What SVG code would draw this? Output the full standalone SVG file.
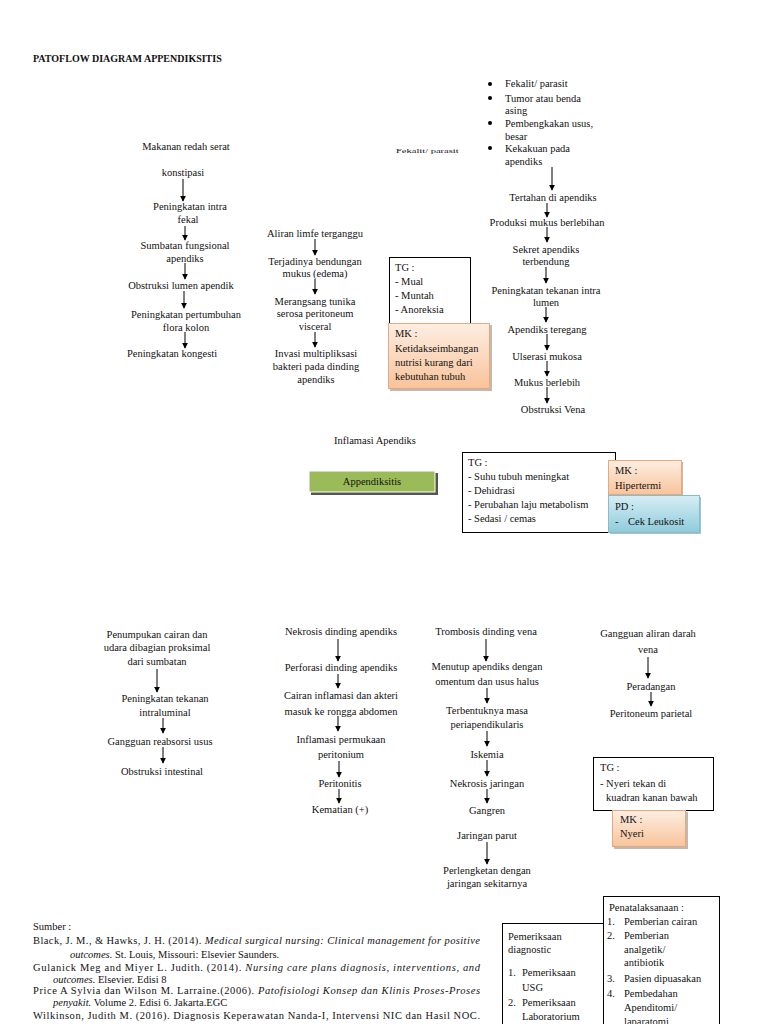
<svg xmlns="http://www.w3.org/2000/svg" width="768" height="1024" viewBox="0 0 768 1024">
<style>
text{font-family:"Liberation Serif","DejaVu Serif",serif;font-size:10.5px;fill:#111}
.c{text-anchor:middle}
.t{font-weight:bold;font-size:10px}
.box{fill:#fff;stroke:#000;stroke-width:1}
.ln{stroke:#000;stroke-width:1;fill:none;marker-end:url(#ah)}
.i{font-style:italic}
</style>
<defs>
<marker id="ah" viewBox="0 0 8 8" refX="7" refY="4" markerWidth="6" markerHeight="6" orient="auto" markerUnits="userSpaceOnUse"><path d="M0,0 L8,4 L0,8 Z" fill="#000"/></marker>
<linearGradient id="og" x1="0" y1="0" x2="0" y2="1"><stop offset="0" stop-color="#fdeee2"/><stop offset="1" stop-color="#f9c39a"/></linearGradient>
<linearGradient id="bg" x1="0" y1="0" x2="0" y2="1"><stop offset="0" stop-color="#d6eef5"/><stop offset="1" stop-color="#8fcbdb"/></linearGradient>
</defs>
<rect width="768" height="1024" fill="#fff"/>
<text class="t" x="33" y="62">PATOFLOW DIAGRAM APPENDIKSITIS</text>

<g id="connectors">
<line class="ln" x1="183" y1="179" x2="183" y2="201"/>
<line class="ln" x1="185" y1="226" x2="185" y2="240"/>
<line class="ln" x1="185" y1="263" x2="185" y2="279"/>
<line class="ln" x1="184" y1="291" x2="184" y2="308"/>
<line class="ln" x1="185" y1="332" x2="185" y2="348"/>
<line class="ln" x1="315" y1="239" x2="315" y2="255"/>
<line class="ln" x1="315" y1="279" x2="315" y2="294"/>
<line class="ln" x1="315" y1="332" x2="315" y2="347"/>
<line class="ln" x1="552" y1="167" x2="552" y2="190"/>
<line class="ln" x1="547" y1="203" x2="547" y2="217"/>
<line class="ln" x1="547" y1="227" x2="547" y2="242"/>
<line class="ln" x1="546" y1="267" x2="546" y2="283"/>
<line class="ln" x1="546" y1="307" x2="546" y2="322"/>
<line class="ln" x1="547" y1="334" x2="547" y2="350"/>
<line class="ln" x1="547" y1="361" x2="547" y2="376"/>
<line class="ln" x1="547" y1="387" x2="547" y2="403"/>
<line class="ln" x1="157" y1="669" x2="157" y2="692"/>
<line class="ln" x1="163" y1="718" x2="163" y2="733"/>
<line class="ln" x1="163" y1="747" x2="163" y2="763"/>
<line class="ln" x1="338" y1="639" x2="338" y2="661"/>
<line class="ln" x1="338" y1="674" x2="338" y2="688"/>
<line class="ln" x1="338" y1="716" x2="338" y2="731"/>
<line class="ln" x1="339" y1="761" x2="339" y2="777"/>
<line class="ln" x1="339" y1="789" x2="339" y2="803"/>
<line class="ln" x1="486" y1="639" x2="486" y2="661"/>
<line class="ln" x1="487" y1="688" x2="487" y2="703"/>
<line class="ln" x1="487" y1="731" x2="487" y2="746"/>
<line class="ln" x1="487" y1="760" x2="487" y2="776"/>
<line class="ln" x1="487" y1="789" x2="487" y2="803"/>
<line class="ln" x1="487" y1="842" x2="487" y2="864"/>
<line class="ln" x1="648" y1="657" x2="648" y2="678"/>
<line class="ln" x1="651" y1="692" x2="651" y2="706"/>
</g>

<g id="left-column">
<text class="c" x="186" y="150">Makanan redah serat</text>
<text class="c" x="183" y="176">konstipasi</text>
<text class="c" x="190" y="210">Peningkatan intra</text>
<text class="c" x="188" y="223">fekal</text>
<text class="c" x="185" y="249">Sumbatan fungsional</text>
<text class="c" x="185" y="262">apendiks</text>
<text class="c" x="181" y="289">Obstruksi lumen apendik</text>
<text class="c" x="186" y="318">Peningkatan pertumbuhan</text>
<text class="c" x="186" y="331">flora kolon</text>
<text class="c" x="172" y="357">Peningkatan kongesti</text>
</g>

<g id="middle-column">
<text class="c" x="315" y="237">Aliran limfe terganggu</text>
<text class="c" x="315" y="265">Terjadinya bendungan</text>
<text class="c" x="315" y="277">mukus (edema)</text>
<text class="c" x="315" y="305">Merangsang tunika</text>
<text class="c" x="315" y="317">serosa peritoneum</text>
<text class="c" x="315" y="330">visceral</text>
<text class="c" x="316" y="357">Invasi multipliksasi</text>
<text class="c" x="316" y="370">bakteri pada dinding</text>
<text class="c" x="316" y="383">apendiks</text>
</g>

<g id="smudge">
<text x="396" y="153" font-size="9" fill="#666" transform="translate(0,76.5) scale(1,0.5)">Fekalit/ parasit</text>
</g>

<g id="causes">
<circle cx="490" cy="84" r="2" fill="#000"/>
<circle cx="490" cy="98" r="2" fill="#000"/>
<circle cx="490" cy="123" r="2" fill="#000"/>
<circle cx="490" cy="148" r="2" fill="#000"/>
<text x="505" y="87">Fekalit/ parasit</text>
<text x="505" y="102">Tumor atau benda</text>
<text x="505" y="114">asing</text>
<text x="505" y="127">Pembengkakan usus,</text>
<text x="505" y="140">besar</text>
<text x="505" y="152">Kekakuan pada</text>
<text x="505" y="165">apendiks</text>
</g>

<g id="right-column">
<text class="c" x="553" y="201">Tertahan di apendiks</text>
<text class="c" x="547" y="226">Produksi mukus berlebihan</text>
<text class="c" x="546" y="253">Sekret apendiks</text>
<text class="c" x="546" y="265">terbendung</text>
<text class="c" x="546" y="294">Peningkatan tekanan intra</text>
<text class="c" x="546" y="306">lumen</text>
<text class="c" x="547" y="333">Apendiks teregang</text>
<text class="c" x="547" y="360">Ulserasi mukosa</text>
<text class="c" x="547" y="386">Mukus berlebih</text>
<text class="c" x="553" y="413">Obstruksi Vena</text>
</g>

<g id="tg1">
<rect class="box" x="389.5" y="257.5" width="81" height="66"/>
<text x="395" y="271">TG :</text>
<text x="395" y="285">- Mual</text>
<text x="395" y="299">- Muntah</text>
<text x="395" y="313">- Anoreksia</text>
</g>
<g id="mk1">
<rect x="390" y="325" width="102" height="66" fill="#bbb"/>
<rect x="388.5" y="323.5" width="101" height="65" fill="url(#og)" stroke="#e8a878"/>
<text x="395" y="337">MK :</text>
<text x="395" y="352">Ketidakseimbangan</text>
<text x="395" y="366">nutrisi kurang dari</text>
<text x="395" y="380">kebutuhan tubuh</text>
</g>

<g id="inflamasi">
<text class="c" x="375" y="444">Inflamasi Apendiks</text>
</g>
<g id="appendiksitis">
<rect x="311" y="473" width="127" height="22" fill="#555"/>
<rect x="309" y="471" width="126" height="21" fill="#9bbb59" stroke="#fff" stroke-width="1"/>
<text class="c" x="372" y="485">Appendiksitis</text>
</g>

<g id="tg2">
<rect class="box" x="462.5" y="452.5" width="153" height="80"/>
<text x="468" y="466">TG :</text>
<text x="468" y="480">- Suhu tubuh meningkat</text>
<text x="468" y="494">- Dehidrasi</text>
<text x="468" y="508">- Perubahan laju metabolism</text>
<text x="468" y="522">- Sedasi / cemas</text>
</g>
<g id="mk2">
<rect x="610" y="462" width="73" height="35" fill="#bbb"/>
<rect x="608.5" y="460.5" width="73" height="34" fill="url(#og)" stroke="#e8a878"/>
<text x="615" y="474">MK :</text>
<text x="615" y="489">Hipertermi</text>
</g>
<g id="pd">
<rect x="610" y="497" width="91" height="37" fill="#bbb"/>
<rect x="608.5" y="495.5" width="91" height="37" fill="url(#bg)" stroke="#7fbfd0"/>
<text x="615" y="510">PD :</text>
<text x="615" y="525">-</text>
<text x="628" y="525">Cek Leukosit</text>
</g>

<g id="bottom-left">
<text class="c" x="157" y="638">Penumpukan cairan dan</text>
<text class="c" x="157" y="651">udara dibagian proksimal</text>
<text class="c" x="157" y="665">dari sumbatan</text>
<text class="c" x="165" y="702">Peningkatan tekanan</text>
<text class="c" x="165" y="716">intraluminal</text>
<text class="c" x="160" y="745">Gangguan reabsorsi usus</text>
<text class="c" x="162" y="775">Obstruksi intestinal</text>
</g>

<g id="bottom-middle">
<text class="c" x="341" y="635">Nekrosis dinding apendiks</text>
<text class="c" x="341" y="671">Perforasi dinding apendiks</text>
<text class="c" x="341" y="699">Cairan inflamasi dan akteri</text>
<text class="c" x="341" y="715">masuk ke rongga abdomen</text>
<text class="c" x="341" y="743">Inflamasi permukaan</text>
<text class="c" x="341" y="758">peritonium</text>
<text class="c" x="340" y="787">Peritonitis</text>
<text class="c" x="340" y="813">Kematian (+)</text>
</g>

<g id="bottom-middle-right">
<text class="c" x="486" y="635">Trombosis dinding vena</text>
<text class="c" x="487" y="670">Menutup apendiks dengan</text>
<text class="c" x="487" y="685">omentum dan usus halus</text>
<text class="c" x="487" y="714">Terbentuknya masa</text>
<text class="c" x="487" y="728">periapendikularis</text>
<text class="c" x="487" y="758">Iskemia</text>
<text class="c" x="487" y="787">Nekrosis jaringan</text>
<text class="c" x="487" y="814">Gangren</text>
<text class="c" x="487" y="839">Jaringan parut</text>
<text class="c" x="487" y="874">Perlengketan dengan</text>
<text class="c" x="487" y="887">jaringan sekitarnya</text>
</g>

<g id="bottom-right">
<text class="c" x="648" y="637">Gangguan aliran darah</text>
<text class="c" x="648" y="653">vena</text>
<text class="c" x="651" y="690">Peradangan</text>
<text class="c" x="651" y="717">Peritoneum parietal</text>
</g>

<g id="tg3">
<rect class="box" x="593.5" y="757.5" width="120" height="53"/>
<text x="600" y="771">TG :</text>
<text x="600" y="787">- Nyeri tekan di</text>
<text x="606" y="801">kuadran kanan bawah</text>
</g>
<g id="mk3">
<rect x="614" y="812" width="74" height="37" fill="#bbb"/>
<rect x="612.5" y="810.5" width="73" height="36" fill="url(#og)" stroke="#e8a878"/>
<text x="620" y="823">MK :</text>
<text x="620" y="837">Nyeri</text>
</g>

<g id="sources">
<text x="33" y="930">Sumber :</text>
<text x="33" y="944" textLength="447" lengthAdjust="spacing">Black, J. M., &amp; Hawks, J. H. (2014). <tspan class="i">Medical surgical nursing: Clinical management for positive</tspan></text>
<text x="70" y="958"><tspan class="i">outcomes.</tspan> St. Louis, Missouri: Elsevier Saunders.</text>
<text x="33" y="971" textLength="447" lengthAdjust="spacing">Gulanick Meg and Miyer L. Judith. (2014). <tspan class="i">Nursing care plans diagnosis, interventions, and</tspan></text>
<text x="53" y="983"><tspan class="i">outcomes.</tspan> Elsevier. Edisi 8</text>
<text x="33" y="994" textLength="447" lengthAdjust="spacing">Price A Sylvia dan Wilson M. Larraine.(2006). <tspan class="i">Patofisiologi Konsep dan Klinis Proses-Proses</tspan></text>
<text x="53" y="1006"><tspan class="i">penyakit.</tspan> Volume 2. Edisi 6. Jakarta.EGC</text>
<text x="33" y="1019" textLength="447" lengthAdjust="spacing">Wilkinson, Judith M. (2016). Diagnosis Keperawatan Nanda-I, Intervensi NIC dan Hasil NOC.</text>
<text x="53" y="1031">Jakarta. EGC</text>
</g>

<g id="pemeriksaan">
<rect class="box" x="502.5" y="923.5" width="104" height="110"/>
<text x="508" y="940">Pemeriksaan</text>
<text x="508" y="953">diagnostic</text>
<text x="508" y="976">1.</text><text x="522" y="976">Pemeriksaan</text>
<text x="522" y="991">USG</text>
<text x="508" y="1006">2.</text><text x="522" y="1006">Pemeriksaan</text>
<text x="522" y="1020">Laboratorium</text>
</g>

<g id="penatalaksanaan">
<rect class="box" x="603.5" y="896.5" width="116" height="140"/>
<text x="609" y="911">Penatalaksanaan :</text>
<text x="607" y="925">1.</text><text x="624" y="925">Pemberian cairan</text>
<text x="607" y="939">2.</text><text x="624" y="939">Pemberian</text>
<text x="624" y="953">analgetik/</text>
<text x="624" y="966">antibiotik</text>
<text x="607" y="982">3.</text><text x="624" y="982">Pasien dipuasakan</text>
<text x="607" y="997">4.</text><text x="624" y="997">Pembedahan</text>
<text x="624" y="1011">Apenditomi/</text>
<text x="624" y="1025">laparatomi</text>
</g>
</svg>
